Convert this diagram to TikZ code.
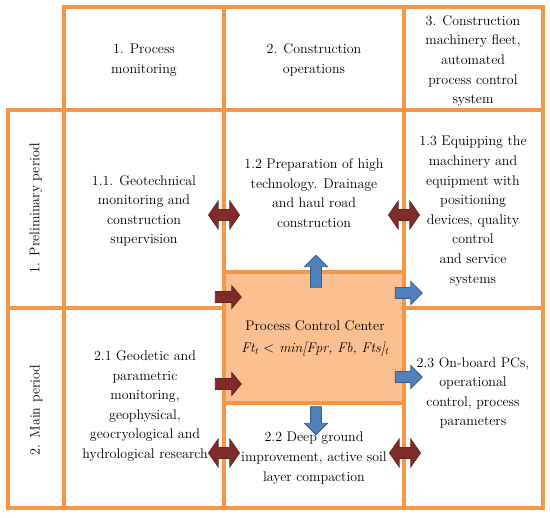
\documentclass[tikz,border=0pt]{standalone}
\usetikzlibrary{shapes.arrows}
\definecolor{gridor}{RGB}{247,150,70}
\definecolor{ctrfill}{RGB}{250,192,143}
\definecolor{bluea}{RGB}{79,129,189}
\definecolor{blueb}{RGB}{56,93,138}
\definecolor{reda}{RGB}{128,42,42}
\definecolor{redb}{RGB}{99,37,35}
\begin{document}
\begin{tikzpicture}[x=1pt,y=-1pt,
  gridline/.style={draw=gridor, line width=4.5pt, line join=miter},
  txt/.style={align=center, font=\fontsize{14}{19.6}\selectfont, inner sep=0pt, text=black},
  arrowbase/.style={inner sep=5pt, line width=0.8pt},
  redright/.style={arrowbase, single arrow, draw=redb, fill=reda, minimum height=26pt, single arrow head extend=6pt, single arrow tip angle=100},
  reddouble/.style={arrowbase, double arrow, draw=redb, fill=reda, minimum height=31pt, double arrow head extend=8.5pt, double arrow tip angle=110},
  blueright/.style={arrowbase, single arrow, draw=blueb, fill=bluea, minimum height=27pt, single arrow head extend=6pt}
]
\useasboundingbox[fill=white] (0,0) rectangle (550,518);
% grid
\draw[gridline] (64,7) rectangle (543,508);
\draw[gridline] (8,110) rectangle (64,508);
\draw[gridline] (8,110) -- (543,110);
\draw[gridline] (224,7) -- (224,508);
\draw[gridline] (404,7) -- (404,508);
\draw[gridline] (8,308) -- (224,308);
\draw[gridline] (404,308) -- (543,308);
\draw[gridline, fill=ctrfill] (224,272) rectangle (404,403);
% texts
\node[txt] (h1) at (144,60) {1. Process\\monitoring};
\node[txt] (h2) at (314,60) {2. Construction\\operations};
\node[txt] (h3) at (473,61) {3. Construction\\machinery fleet,\\automated\\process control\\system};
\node[txt, rotate=90] (p1) at (36,208) {1. Preliminary period};
\node[txt, rotate=90] (p2) at (36,410) {2. Main period};
\node[txt] (c11) at (144,211) {1.1. Geotechnical\\monitoring and\\construction\\supervision};
\node[txt] (c12) at (314,193) {1.2 Preparation of high\\technology. Drainage\\and haul road\\construction};
\node[txt] (c13) at (473,211) {1.3 Equipping the\\machinery and\\equipment with\\positioning\\devices, quality\\control\\and service\\systems};
\node[txt, font=\fontsize{14}{22}\selectfont] (ctr) at (315,338) {Process Control Center\\\textit{Ft\textsubscript{t} $<$ min[Fpr, Fb, Fts]\textsubscript{t}}};
\node[txt] (c21) at (145,406) {2.1 Geodetic and\\parametric\\monitoring,\\geophysical,\\geocryological and\\hydrological research};
\node[txt] (c22) at (314,458) {2.2 Deep ground\\improvement, active soil\\layer compaction};
\node[txt] (c23) at (473,393) {2.3 On-board PCs,\\operational\\control, process\\parameters};
% arrows
\node[reddouble] (d1) at (224,215) {};
\node[reddouble] (d2) at (404,215) {};
\node[reddouble] (d3) at (224,453) {};
\node[reddouble] (d4) at (405,453) {};
\node[redright] (r1) at (226,297) {};
\node[redright] (r2) at (226,384) {};
\node[blueright, shape border rotate=90, minimum height=32pt] (bu) at (316,274) {};
\node[blueright, shape border rotate=270, minimum height=28pt] (bd) at (316,418) {};
\node[blueright] (br1) at (406,293) {};
\node[blueright] (br2) at (406,377) {};
\end{tikzpicture}
\end{document}
